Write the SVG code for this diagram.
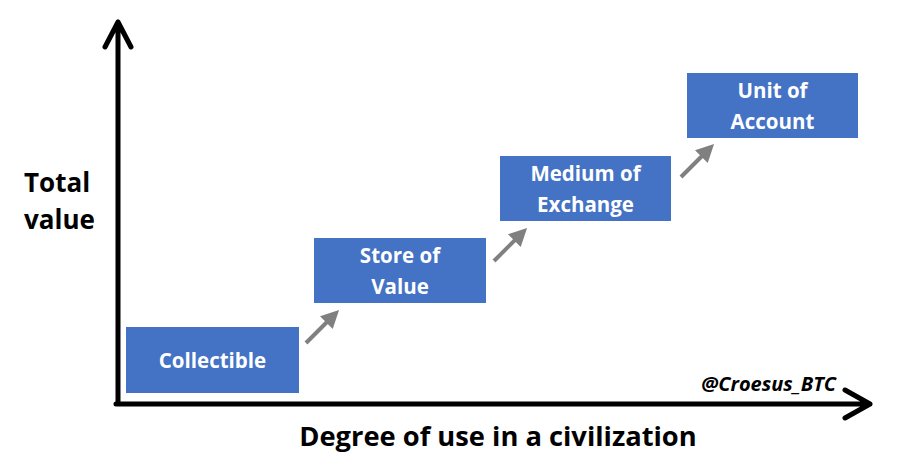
<svg xmlns="http://www.w3.org/2000/svg" width="903" height="468" viewBox="0 0 903 468">
<style>
.box{fill:#4472C4}
.bt{fill:#fff;font-family:"Open Sans","Liberation Sans",sans-serif;font-weight:bold;font-size:20.5px;text-anchor:middle}
.ax{stroke:#000;stroke-width:5;fill:none;stroke-linecap:round;stroke-linejoin:round}
.lbl{font-family:"Open Sans","Liberation Sans",sans-serif;font-weight:bold;font-size:26px;fill:#000}
.xl{font-size:27.3px;text-anchor:middle}
.ar{stroke:#808080;stroke-width:4}
</style>
<defs>
<marker id="ah" markerWidth="4.5" markerHeight="4.5" refX="2" refY="2.25" orient="auto" markerUnits="strokeWidth">
<path d="M0,0 L4.5,2.25 L0,4.5 z" fill="#808080"/>
</marker>
</defs>
<g id="axes">
<path class="ax" d="M118,402 V22 M105,47 L118,22 L131,47"/>
<path class="ax" d="M116,404 H870 M845,390 L870,404 L845,418"/>
</g>
<g id="connectors">
<line class="ar" x1="306" y1="343" x2="332" y2="317" marker-end="url(#ah)"/>
<line class="ar" x1="494" y1="261" x2="520" y2="235" marker-end="url(#ah)"/>
<line class="ar" x1="681" y1="177" x2="707" y2="151" marker-end="url(#ah)"/>
</g>
<g id="collectible"><rect class="box" x="126" y="327" width="173" height="66"/><text class="bt" x="212.5" y="368">Collectible</text></g>
<g id="store"><rect class="box" x="314" y="238" width="172" height="65"/><text class="bt" x="400" y="263">Store of</text><text class="bt" x="400" y="294">Value</text></g>
<g id="medium"><rect class="box" x="500" y="156" width="171" height="65"/><text class="bt" x="585.5" y="181">Medium of</text><text class="bt" x="585.5" y="212">Exchange</text></g>
<g id="unit"><rect class="box" x="687" y="73" width="171" height="65"/><text class="bt" x="772.5" y="98">Unit of</text><text class="bt" x="772.5" y="129">Account</text></g>
<g id="labels">
<text class="lbl" x="24" y="192">Total</text>
<text class="lbl" x="24" y="229">value</text>
<text class="lbl xl" x="498" y="446">Degree of use in a civilization</text>
<text x="836" y="391" text-anchor="end" font-family="'Open Sans','Liberation Sans',sans-serif" font-weight="bold" font-style="italic" font-size="20">@Croesus_BTC</text>
</g>
</svg>
